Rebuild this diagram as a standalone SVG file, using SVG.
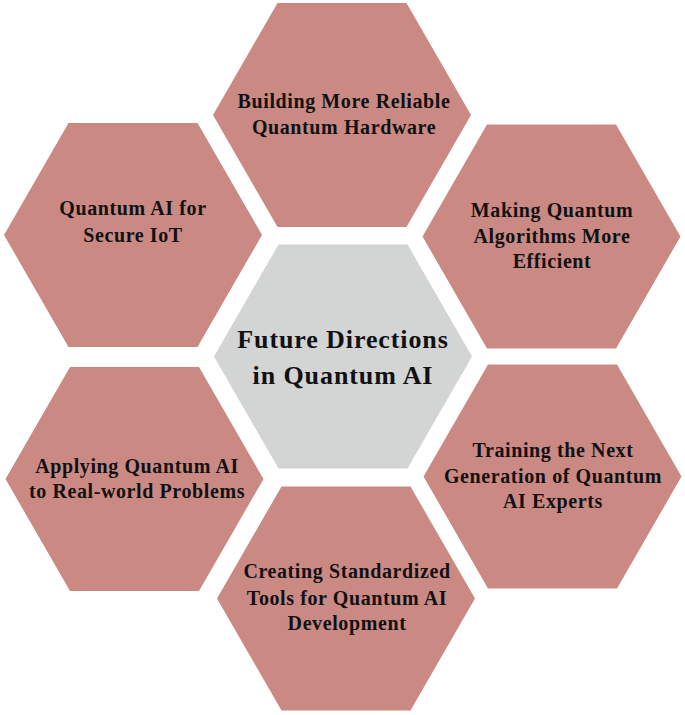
<svg xmlns="http://www.w3.org/2000/svg" xmlns:xlink="http://www.w3.org/1999/xlink" width="685" height="715" viewBox="0 0 685 715">
<defs>
<polygon id="hex" points="-129,0 -64.5,-112 64.5,-112 129,0 64.5,112 -64.5,112"/>
</defs>
<style>
.pink{fill:#CB8984;}
.grey{fill:#D3D4D4;}
text{font-family:"Liberation Serif","Times New Roman",serif;font-weight:bold;fill:#111;text-anchor:middle;}
.t{font-size:20px;letter-spacing:0.6px;}
.c{font-size:26px;letter-spacing:0.9px;}
</style>
<rect width="685" height="715" fill="#fff"/>
<g id="connectors"/>
<g id="center">
<use xlink:href="#hex" href="#hex" class="grey" transform="translate(343,356.5)"/>
<text class="c" x="343" y="348">Future Directions</text>
<text class="c" x="343" y="384">in Quantum AI</text>
</g>
<g id="top">
<use xlink:href="#hex" href="#hex" class="pink" transform="translate(342,115)"/>
<text class="t" x="344" y="108">Building More Reliable</text>
<text class="t" x="344" y="134">Quantum Hardware</text>
</g>
<g id="left-top">
<use xlink:href="#hex" href="#hex" class="pink" transform="translate(133,235)"/>
<text class="t" x="133" y="215">Quantum AI for</text>
<text class="t" x="133" y="242">Secure IoT</text>
</g>
<g id="right-top">
<use xlink:href="#hex" href="#hex" class="pink" transform="translate(551.5,236.5)"/>
<text class="t" x="552" y="217">Making Quantum</text>
<text class="t" x="552" y="243">Algorithms More</text>
<text class="t" x="552" y="268">Efficient</text>
</g>
<g id="left-bottom">
<use xlink:href="#hex" href="#hex" class="pink" transform="translate(134.5,479)"/>
<text class="t" x="137" y="473">Applying Quantum AI</text>
<text class="t" x="137" y="498">to Real-world Problems</text>
</g>
<g id="right-bottom">
<use xlink:href="#hex" href="#hex" class="pink" transform="translate(552.5,476.5)"/>
<text class="t" x="553" y="457">Training the Next</text>
<text class="t" x="553" y="483">Generation of Quantum</text>
<text class="t" x="553" y="508">AI Experts</text>
</g>
<g id="bottom">
<use xlink:href="#hex" href="#hex" class="pink" transform="translate(346,598.5)"/>
<text class="t" x="347" y="578">Creating Standardized</text>
<text class="t" x="347" y="605">Tools for Quantum AI</text>
<text class="t" x="347" y="630">Development</text>
</g>
</svg>
